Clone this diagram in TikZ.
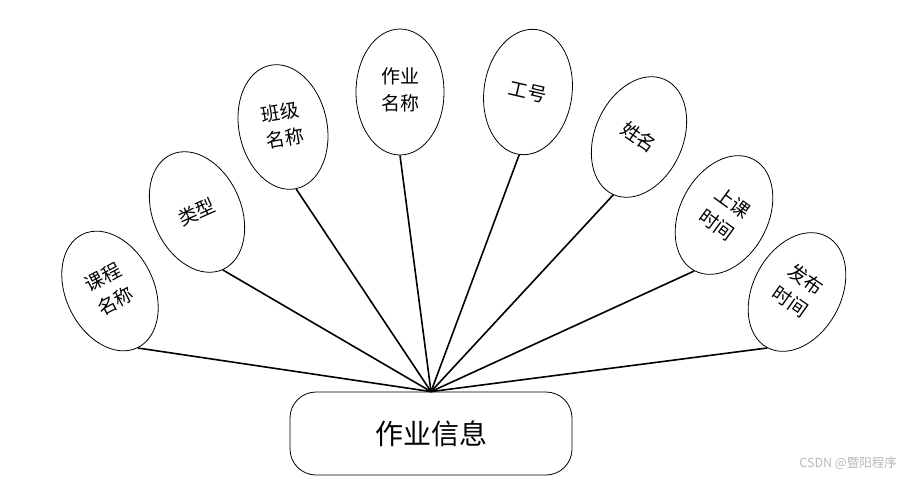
\documentclass[tikz,border=0pt]{standalone}
\usepackage{fontspec}
\setmainfont{Noto Sans CJK SC}
\usetikzlibrary{shapes.geometric}
\newcommand{\twoline}[2]{\begin{tabular}{@{}c@{}}#1\\#2\end{tabular}}
\tikzset{
  attr/.style={draw=black, line width=0.8pt, shape=ellipse, minimum width=88pt, minimum height=126pt, inner sep=0pt, align=center, font=\fontsize{19}{27}\selectfont},
  entity/.style={draw=black, line width=0.8pt, rounded corners=26pt, minimum width=282pt, minimum height=83pt, inner sep=0pt, font=\fontsize{28}{32}\selectfont},
  link/.style={draw=black, line width=1.6pt}
}
\begin{document}
\begin{tikzpicture}[x=1pt,y=-1pt]
\useasboundingbox (0,0) rectangle (899,479);
\node[entity] (e) at (431,433.5) {作业信息};
\node[attr, rotate=26] (a1) at (110,291) {\rotatebox{2}{\twoline{课程}{名称}}};
\node[attr, rotate=24] (a2) at (197,212) {\rotatebox{0}{类型}};
\node[attr, rotate=12] (a3) at (283,127) {\rotatebox{-2}{\twoline{班级}{名称}}};
\node[attr, rotate=0] (a4) at (400,92) {\twoline{作业}{名称}};
\node[attr, rotate=-8] (a5) at (528,92) {\rotatebox{-5}{工号}};
\node[attr, rotate=-24] (a6) at (639,137) {\rotatebox{-11}{姓名}};
\node[attr, rotate=-28] (a7) at (724,215) {\rotatebox{-8}{\twoline{上课}{时间}}};
\node[attr, rotate=-28] (a8) at (797,292) {\rotatebox{-7}{\twoline{发布}{时间}}};
\foreach \i in {1,...,8} {\draw[link] (e.north) -- (a\i.south);}
\node[anchor=east, text=black!28, font=\fontsize{12.5}{14}\selectfont, inner sep=0pt] (wm) at (897,463) {CSDN @暨阳程序};
\end{tikzpicture}
\end{document}
